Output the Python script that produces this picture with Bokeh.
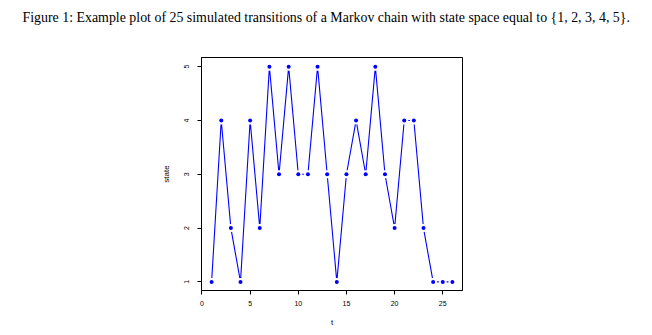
from bokeh.plotting import figure
from bokeh.models import Range1d, FixedTicker, Title
from bokeh.embed import file_html
from bokeh.resources import INLINE

t = list(range(1, 27))
state = [1, 4, 2, 1, 4, 2, 5, 3, 5, 3, 3, 5, 3, 1, 3, 4, 3, 5, 3, 2, 4, 4, 2, 1, 1, 1]
x_ticks = [0, 5, 10, 15, 20, 25]
y_ticks = [1, 2, 3, 4, 5]
title_text = "Figure 1: Example plot of 25 simulated transitions of a Markov chain with state space equal to {1, 2, 3, 4, 5}."

p = figure(width=652, height=335, output_backend="svg", toolbar_location=None,
           x_range=Range1d(-0.05, 27.05), y_range=Range1d(0.84, 5.17),
           min_border_left=201, min_border_right=190, min_border_top=57, min_border_bottom=45)
p.background_fill_color = "white"
p.border_fill_color = "white"
p.outline_line_color = "black"
p.outline_line_width = 1
p.grid.visible = False

# spacer (closest to frame), then the real caption further out
p.add_layout(Title(text=" ", text_font_size="10px", standoff=20), "above")
p.add_layout(Title(text=title_text, align="left", offset=-179,
                   text_font="Liberation Serif", text_font_size="13.9px",
                   text_font_style="normal", text_color="black", standoff=0), "above")

p.line(t, state, line_color="blue", line_width=1.1)
p.scatter(t, state, size=8, fill_color="white", line_color=None)
p.scatter(t, state, size=4, fill_color="blue", line_color=None)

for ax in (p.xaxis[0], p.yaxis[0]):
    ax.axis_line_color = "black"
    ax.major_tick_line_color = "black"
    ax.minor_tick_line_color = None
    ax.major_tick_out = 4
    ax.major_tick_in = 0
    ax.major_label_text_font = "Liberation Sans"
    ax.major_label_text_font_size = "7px"
    ax.major_label_text_color = "black"
    ax.axis_label_text_font = "Liberation Sans"
    ax.axis_label_text_font_size = "8px"
    ax.axis_label_text_font_style = "normal"
    ax.axis_label_text_color = "black"

p.xaxis[0].ticker = FixedTicker(ticks=x_ticks)
p.yaxis[0].ticker = FixedTicker(ticks=y_ticks)
p.xaxis[0].axis_label = "t"
p.yaxis[0].axis_label = "state"
p.xaxis[0].major_label_standoff = 6
p.xaxis[0].axis_label_standoff = 9
p.yaxis[0].major_label_orientation = "vertical"
p.yaxis[0].major_label_standoff = 8
p.yaxis[0].axis_label_standoff = 11

open("out.html", "w").write(file_html(p, INLINE))
